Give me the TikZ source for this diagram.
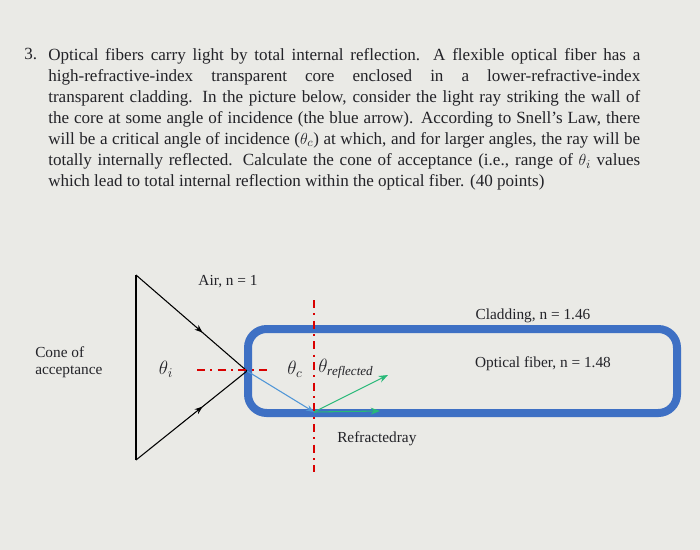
\documentclass[tikz,border=0pt]{standalone}
\usepackage{fontspec}
\setmainfont{Liberation Serif}
\usetikzlibrary{arrows.meta,decorations.markings}
\definecolor{bg}{RGB}{234,234,230}
\definecolor{fib}{RGB}{62,112,196}
\definecolor{ray}{RGB}{80,150,215}
\definecolor{grn}{RGB}{40,185,120}
\definecolor{txt}{RGB}{35,35,40}
\begin{document}
\begin{tikzpicture}[x=0.75pt,y=-0.75pt,
  lbl/.style={text=txt,font=\fontsize{11.5}{13}\selectfont,inner sep=0},
  side/.style={thick,postaction={decorate},decoration={markings,mark=at position 0.6 with {\arrow{Stealth[length=6pt]}}}},
  reddash/.style={red!85!black,thick,dash pattern=on 6pt off 4pt on 1.5pt off 4pt}]
\fill[bg] (0,0) rectangle (700,550);
\node[anchor=north west,inner sep=0,text=txt,font=\fontsize{12.8}{15.8}\selectfont] (num) at (24,48) {3.};
\node[anchor=north west,inner sep=0,text=txt,text width=444pt,align=justify,font=\fontsize{12.8}{15.8}\selectfont] (para) at (48,48) {Optical fibers carry light by total internal reflection. A flexible optical fiber has a\linebreak
high-refractive-index transparent core enclosed in a lower-refractive-index\linebreak
transparent cladding. In the picture below, consider the light ray striking the wall of\linebreak
the core at some angle of incidence (the blue arrow). According to Snell's Law, there\linebreak
will be a critical angle of incidence ($\theta_c$) at which, and for larger angles, the ray will be\linebreak
totally internally reflected. Calculate the cone of acceptance (i.e., range of $\theta_i$ values\linebreak
which lead to total internal reflection within the optical fiber. (40 points)};
% fiber
\draw[fib,line width=6pt,rounded corners=14pt] (248,329) rectangle (677,413);
\coordinate (top) at (136,275);
\coordinate (bot) at (136,460);
\coordinate (tip) at (247,371);
\draw[thick] (top) -- (bot);
\draw[side] (top) -- (tip);
\draw[side] (bot) -- (tip);
\coordinate (h1) at (197,370); \coordinate (h2) at (272,370);
\draw[reddash] (h1) -- (h2);
\coordinate (v1) at (314,300); \coordinate (v2) at (314,472);
\draw[reddash] (v1) -- (v2);
\coordinate (hit) at (314,412);
\draw[ray,thick,-{Stealth[length=6pt]}] (tip) -- (hit);
\coordinate (g1) at (388,375); \coordinate (g2) at (380,411);
\draw[grn,thick,-{Stealth[length=7pt]}] (hit) -- (g1);
\draw[grn,thick,-{Stealth[length=7pt]}] (hit) -- (g2);
\node[lbl] (air) at (228,282) {Air, n = 1};
\node[lbl] (clad) at (533,316) {Cladding, n = 1.46};
\node[lbl] (opt) at (543,364) {Optical fiber, n = 1.48};
\node[lbl,align=left,anchor=west] (cone) at (35,362) {Cone of\\acceptance};
\node[lbl,font=\fontsize{14}{14}\selectfont] (ti) at (166,369) {$\theta_i$};
\node[lbl,font=\fontsize{14}{14}\selectfont] (tc) at (295,369) {$\theta_c$};
\node[lbl,font=\fontsize{14}{14}\selectfont,anchor=west] (tr) at (318,369) {$\theta_{\mathit{reflected}}$};
\node[lbl,anchor=west] (refr) at (337,439) {Refractedray};
\end{tikzpicture}
\end{document}
